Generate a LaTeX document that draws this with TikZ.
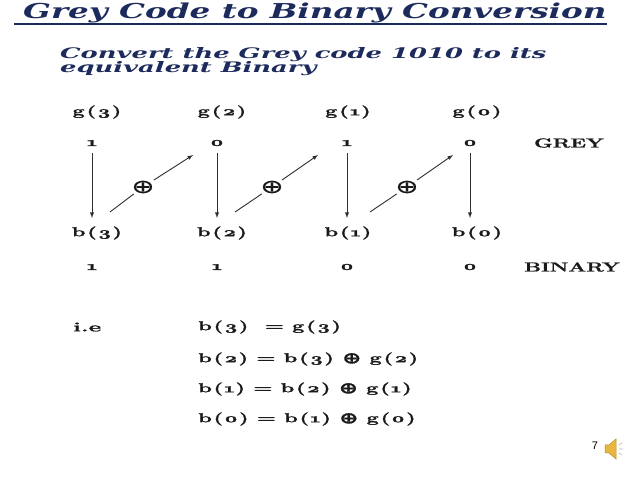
\documentclass[tikz,border=0pt]{standalone}
\usepackage{fontspec}
\usetikzlibrary{arrows}
\newfontfamily\titlefont{DejaVu Serif}
\newfontfamily\pagefont{Liberation Sans}
\newfontfamily\symfont[FakeBold=0.6]{DejaVu Sans}
\newfontfamily\labfont[Numbers=OldStyle]{Latin Modern Roman}
\definecolor{navy}{HTML}{1C2A5C}
\definecolor{ink}{HTML}{1A1A1A}
\definecolor{arrowgray}{HTML}{2E2E2E}
\definecolor{gold}{HTML}{E9B640}
\definecolor{golddark}{HTML}{B98A22}
\newcommand\xo{\raisebox{-1.2pt}{\scalebox{0.85}[1]{\fontsize{16}{16}\selectfont\symfont ⊕}}}
\newcommand\wide[2][1.68]{\scalebox{#1}[1]{#2}}
\newcommand\bit[2]{#1\kern1pt(\kern0.6pt#2\kern0.6pt)}

\tikzset{
    lbl/.style={font=\fontsize{13}{15}\selectfont\labfont\bfseries\addfontfeature{FakeBold=1.2}, text=ink, inner sep=1pt},
    tag/.style={font=\fontsize{13}{15}\selectfont\labfont\bfseries\addfontfeature{FakeBold=1.2}, text=ink, inner sep=1pt},
    xor/.style={font=\fontsize{19}{19}\selectfont\symfont, text=ink, inner sep=0.5pt},
    down/.style={arrowgray, -latex, line width=0.9pt, shorten <=6pt},
    diag/.style={arrowgray, -latex, line width=0.9pt},
}

\begin{document}
\begin{tikzpicture}[x=1pt, y=-1pt]
                \useasboundingbox (0, 0) rectangle (638, 478);
                % Heading
                \node [anchor=base west, inner sep=0, text=navy, font=\fontsize{20.5}{22}\selectfont\titlefont\bfseries\itshape] (title) at (23, 19) {\wide[1.59]{Grey Code to Binary Conversion}};
                \draw [navy, line width=1.3pt] (14, 24) -- (607, 24);
                \node [anchor=base west, inner sep=0, text=navy, font=\fontsize{14.5}{15}\selectfont\titlefont\bfseries\itshape] (task) at (60, 58.5) {\wide[1.78]{Convert the Grey code 1010 to its}};
                \node [anchor=base west, inner sep=0, text=navy, font=\fontsize{14.5}{15}\selectfont\titlefont\bfseries\itshape] (task2) at (60, 73) {\wide[1.78]{equivalent Binary}};
                % Grey row
                \node [lbl] (g3) at (97, 112) {\wide{\bit{g}{3}}};
                \node [lbl] (g2) at (222, 112) {\wide{\bit{g}{2}}};
                \node [lbl] (g1) at (348, 112) {\wide{\bit{g}{1}}};
                \node [lbl] (g0) at (477, 112) {\wide{\bit{g}{0}}};
                \node [lbl] (v3) at (92, 143) {\wide{1}};
                \node [lbl] (v2) at (217, 143) {\wide{0}};
                \node [lbl] (v1) at (347, 143) {\wide{1}};
                \node [lbl] (v0) at (470, 143) {\wide{0}};
                \node [tag] (grey) at (569, 143) {\wide[1.62]{GREY}};
                % Binary row
                \node [lbl] (b3) at (97, 233) {\wide{\bit{b}{3}}};
                \node [lbl] (b2) at (222, 233) {\wide{\bit{b}{2}}};
                \node [lbl] (b1) at (348, 233) {\wide{\bit{b}{1}}};
                \node [lbl] (b0) at (477, 233) {\wide{\bit{b}{0}}};
                \node [lbl] (w3) at (92, 267) {\wide{1}};
                \node [lbl] (w2) at (217, 267) {\wide{1}};
                \node [lbl] (w1) at (347, 267) {\wide{0}};
                \node [lbl] (w0) at (470, 267) {\wide{0}};
                \node [tag] (binary) at (572, 267) {\wide[1.62]{BINARY}};
                % Down arrows
                \coordinate (d3) at (92, 218);
                \coordinate (d2) at (217, 218);
                \coordinate (d1) at (347, 218);
                \coordinate (d0) at (470, 218);
                \draw [down] (v3) -- (d3);
                \draw [down] (v2) -- (d2);
                \draw [down] (v1) -- (d1);
                \draw [down] (v0) -- (d0);
                % XOR arrows
                \node [xor] (x1) at (143, 187) {\wide[1.45]{⊕}};
                \node [xor] (x2) at (272, 187) {\wide[1.45]{⊕}};
                \node [xor] (x3) at (407, 187) {\wide[1.45]{⊕}};
                \coordinate (s1) at (110, 212);
                \coordinate (e1) at (193, 155);
                \coordinate (s2) at (235, 212);
                \coordinate (e2) at (318, 155);
                \coordinate (s3) at (370, 212);
                \coordinate (e3) at (453, 155);
                \draw [diag] (s1) -- (x1) -- (e1);
                \draw [diag] (s2) -- (x2) -- (e2);
                \draw [diag] (s3) -- (x3) -- (e3);
                % i.e. equations
                \node [lbl, anchor=west] (ie) at (72, 327) {\wide[1.9]{i.e}};
                \node [lbl, anchor=west] (eq3) at (197, 327) {\wide{\bit{b}{3} \ = \bit{g}{3}}};
                \node [lbl, anchor=west] (eq2) at (197, 359) {\wide{\bit{b}{2} = \bit{b}{3} \xo\ \bit{g}{2}}};
                \node [lbl, anchor=west] (eq1) at (197, 389) {\wide{\bit{b}{1} = \bit{b}{2} \xo\ \bit{g}{1}}};
                \node [lbl, anchor=west] (eq0) at (197, 419) {\wide{\bit{b}{0} = \bit{b}{1} \xo\ \bit{g}{0}}};
                % Page number and speaker
                \node [inner sep=0, font=\fontsize{11}{12}\selectfont\pagefont] (page) at (595, 446) {7};
                \filldraw [fill=gold, draw=golddark, line width=0.5pt] (605, 445) -- (609, 445) -- (616, 439) -- (616, 459) -- (609, 453) -- (605, 453) -- cycle;
                \draw [gray!60, line width=0.6pt] (619, 445) -- (622, 443) (619, 449) -- (623, 449) (619, 453) -- (622, 455);
            \end{tikzpicture}
\end{document}
